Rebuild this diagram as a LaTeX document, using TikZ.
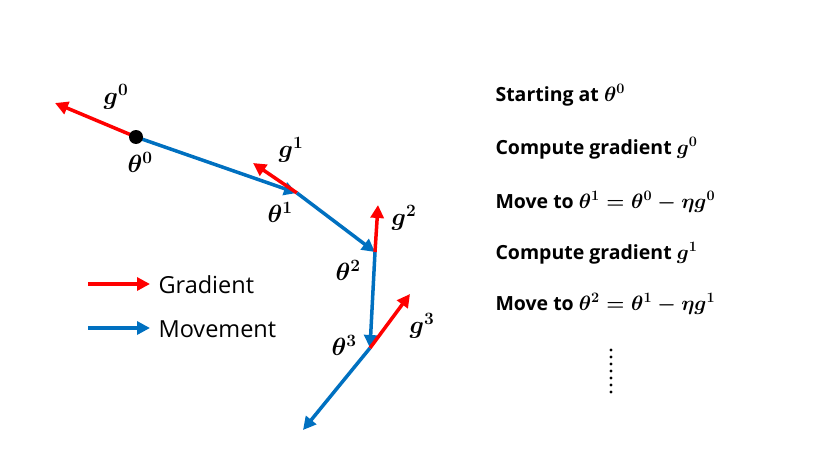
\documentclass[tikz,border=0pt]{standalone}
\usepackage{amsmath}
\usepackage{fontspec}
\setmainfont{Open Sans}
\usetikzlibrary{arrows.meta}
\definecolor{gred}{RGB}{255,0,0}
\definecolor{mblue}{RGB}{0,112,192}
\tikzset{
 grad/.style={gred,line width=3.5pt,-{Triangle[length=13pt,width=13pt]}},
 mov/.style={mblue,line width=3.5pt,-{Triangle[length=13pt,width=13pt]}},
 lab/.style={font=\fontsize{27}{30}\selectfont\boldmath},
 txt/.style={anchor=west,font=\fontsize{19.5}{23}\selectfont\bfseries\boldmath}
}
\begin{document}
\begin{tikzpicture}[x=1pt,y=-1pt]
\useasboundingbox (0,0) rectangle (829,476);
\coordinate (t0) at (136,137);
\coordinate (t1) at (297,193);
\coordinate (t2) at (375,252);
\coordinate (t3) at (370,348);
\coordinate (e) at (303,430);
\coordinate (g0) at (55,103);
\coordinate (g1) at (253,163);
\coordinate (g2) at (378,205);
\coordinate (g3) at (410,294);
\draw[grad] (t0) -- (g0);
\draw[mov] (t0) -- (t1);
\draw[grad] (t1) -- (g1);
\draw[mov] (t1) -- (t2);
\draw[mov] (t2) -- (t3);
\draw[grad] (t2) -- (g2);
\draw[mov] (t3) -- (e);
\draw[grad] (t3) -- (g3);
\fill (t0) circle (7);
\node[lab] (l0) at (116,97) {$g^0$};
\node[lab] (l1) at (291,150) {$g^1$};
\node[lab] (l2) at (404,218) {$g^2$};
\node[lab] (l3) at (422,326) {$g^3$};
\node[lab] (th0) at (140,162) {$\theta^0$};
\node[lab] (th1) at (280,212) {$\theta^1$};
\node[lab] (th2) at (348,270) {$\theta^2$};
\node[lab] (th3) at (344,345) {$\theta^3$};
\coordinate (a1) at (88,284); \coordinate (b1) at (150,284);
\coordinate (a2) at (88,328); \coordinate (b2) at (150,328);
\draw[grad] (a1) -- (b1);
\draw[mov] (a2) -- (b2);
\node[anchor=west,font=\fontsize{23.5}{27}\selectfont] (lg) at (155,285) {Gradient};
\node[anchor=west,font=\fontsize{23.5}{27}\selectfont] (lm) at (155,329) {Movement};
\node[txt] (s1) at (492,95) {Starting at $\theta^0$};
\node[txt] (s2) at (492,148) {Compute gradient $g^0$};
\node[txt] (s3) at (492,202) {Move to $\theta^1=\theta^0-\eta g^0$};
\node[txt] (s4) at (492,253) {Compute gradient $g^1$};
\node[txt] (s5) at (492,304) {Move to $\theta^2=\theta^1-\eta g^1$};
\foreach \y in {350,357,...,392} \fill (611,\y) circle (1.6);
\end{tikzpicture}
\end{document}
